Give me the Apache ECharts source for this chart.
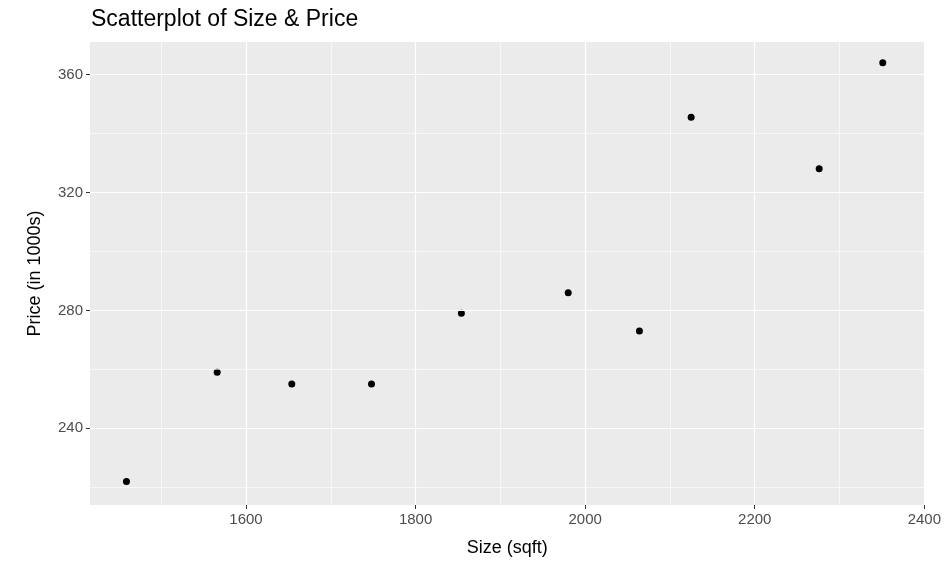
<!DOCTYPE html>
<html><head><meta charset="utf-8">
<script src="https://cdn.jsdelivr.net/npm/echarts@6/dist/echarts.min.js"></script>
<style>html,body{margin:0;padding:0;background:#fff}#c{width:944px;height:568px}</style>
</head><body><div id="c"></div>
<script>
const sizes  = [1459, 1566, 1654, 1748, 1854, 1980, 2064, 2125, 2276, 2351];
const prices = [222, 259, 255, 255, 279, 286, 273, 345.5, 328, 364];
const xMajor = [1600, 1800, 2000, 2200, 2400];
const xMinor = [1500, 1700, 1900, 2100, 2300];
const yMajor = [240, 280, 320, 360];
const yMinor = [220, 260, 300, 340];

const chart = echarts.init(document.getElementById('c'));
const lineStyleMajor = {color:'#fff', width:1.2, type:'solid'};
const lineStyleMinor = {color:'#fff', width:0.6, type:'solid'};
function ml(arr, key, style){ return arr.map(v=>({[key]:v, lineStyle:style})); }
chart.setOption({
  animation:false,
  title:{text:'Scatterplot of Size & Price', left:86, top:3, textStyle:{fontSize:23, fontWeight:'normal', color:'#000', fontFamily:'Liberation Sans, Arial'}},
  grid:{left:90, right:14, top:42, bottom:63, show:true, backgroundColor:'#EBEBEB', borderWidth:0},
  xAxis:{type:'value', min:1416, max:2400, name:'Size (sqft)', nameLocation:'middle', nameGap:34,
    nameTextStyle:{fontSize:18, color:'#000', fontFamily:'Liberation Sans, Arial'},
    axisLine:{show:false}, splitLine:{show:false},
    axisTick:{show:true, customValues:xMajor, length:4, lineStyle:{color:'#333'}},
    axisLabel:{customValues:xMajor, fontSize:15, color:'#4d4d4d', margin:7, fontFamily:'Liberation Sans, Arial', formatter:v=>String(v)}},
  yAxis:{type:'value', min:214, max:371, name:'Price (in 1000s)', nameLocation:'middle', nameGap:46,
    nameTextStyle:{fontSize:18, color:'#000', fontFamily:'Liberation Sans, Arial'},
    axisLine:{show:false}, splitLine:{show:false},
    axisTick:{show:true, customValues:yMajor, length:4, lineStyle:{color:'#333'}},
    axisLabel:{customValues:yMajor, fontSize:15, color:'#4d4d4d', margin:7, fontFamily:'Liberation Sans, Arial', formatter:v=>String(v)}},
  series:[
    {type:'scatter', data:[], silent:true,
     markLine:{silent:true, symbol:'none', label:{show:false}, animation:false,
       data:[...ml(xMinor,'xAxis',lineStyleMinor), ...ml(yMinor,'yAxis',lineStyleMinor),
             ...ml(xMajor,'xAxis',lineStyleMajor), ...ml(yMajor,'yAxis',lineStyleMajor)]}},
    {type:'scatter', data:sizes.map((s,i)=>[s,prices[i]]), symbolSize:7, itemStyle:{color:'#000', opacity:1}}
  ]
});
</script></body></html>
